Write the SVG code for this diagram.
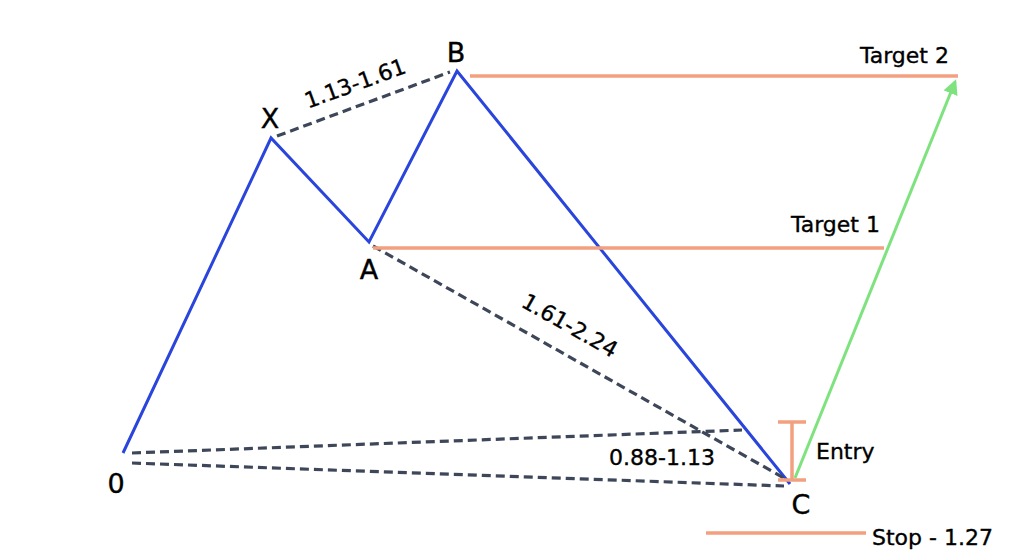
<svg xmlns="http://www.w3.org/2000/svg" width="1024" height="554" viewBox="0 0 1024 554">
<defs>
<marker id="arr" viewBox="0 0 10 10" refX="8" refY="5" markerWidth="5" markerHeight="5" orient="auto" markerUnits="strokeWidth">
<path d="M0,0 L10,5 L0,10 z" fill="#7ee27e"/>
</marker>
</defs>
<style>
.blue{fill:none;stroke:#2a45dc;stroke-width:3;stroke-linejoin:miter}
.dash{fill:none;stroke:#3d4759;stroke-width:3.2;stroke-dasharray:9 5}
.orange{fill:none;stroke:#f2a07f;stroke-width:3.5}
.green{fill:none;stroke:#7ee27e;stroke-width:3}
.lbl{font-family:"DejaVu Sans",sans-serif;font-size:27px;fill:#000;stroke:#000;stroke-width:0.4}
.small{font-family:"DejaVu Sans",sans-serif;font-size:22px;fill:#000;stroke:#000;stroke-width:0.35}
</style>
<rect width="1024" height="554" fill="#fff"/>
<g id="connectors">
<polyline class="blue" points="123,453 271,138 369,242 457,71 790,484"/>
<line class="dash" x1="277" y1="136" x2="450" y2="72"/>
<line class="dash" x1="373" y1="246" x2="784" y2="478"/>
<line class="dash" x1="132" y1="453" x2="742" y2="430"/>
<line class="dash" x1="132" y1="463" x2="784" y2="486"/>
<line class="orange" x1="470" y1="76" x2="958" y2="76"/>
<line class="orange" x1="373" y1="248" x2="884" y2="248"/>
<line class="orange" x1="706" y1="533" x2="866" y2="533"/>
<line class="green" x1="795" y1="478" x2="955" y2="82" marker-end="url(#arr)"/>
</g>
<g id="entry">
<line class="orange" x1="792" y1="422" x2="792" y2="480"/>
<line class="orange" x1="778" y1="422" x2="806" y2="422"/>
<line class="orange" x1="778" y1="480" x2="806" y2="480"/>
<text class="small" x="816" y="459">Entry</text>
</g>
<g id="node-0"><text class="lbl" x="116" y="493" text-anchor="middle">0</text></g>
<g id="node-X"><text class="lbl" x="270" y="128" text-anchor="middle">X</text></g>
<g id="node-A"><text class="lbl" x="369" y="279" text-anchor="middle">A</text></g>
<g id="node-B"><text class="lbl" x="456" y="62" text-anchor="middle">B</text></g>
<g id="node-C"><text class="lbl" x="801" y="514" text-anchor="middle">C</text></g>
<g id="labels">
<text class="small" x="355" y="91" text-anchor="middle" transform="rotate(-20 355 83)">1.13-1.61</text>
<text class="small" x="570" y="333" text-anchor="middle" transform="rotate(29.5 570 325)">1.61-2.24</text>
<text class="small" x="662" y="465" text-anchor="middle">0.88-1.13</text>
<text class="small" x="949" y="63" text-anchor="end">Target 2</text>
<text class="small" x="880" y="232" text-anchor="end">Target 1</text>
<text class="small" x="872" y="545">Stop - 1.27</text>
</g>
</svg>
